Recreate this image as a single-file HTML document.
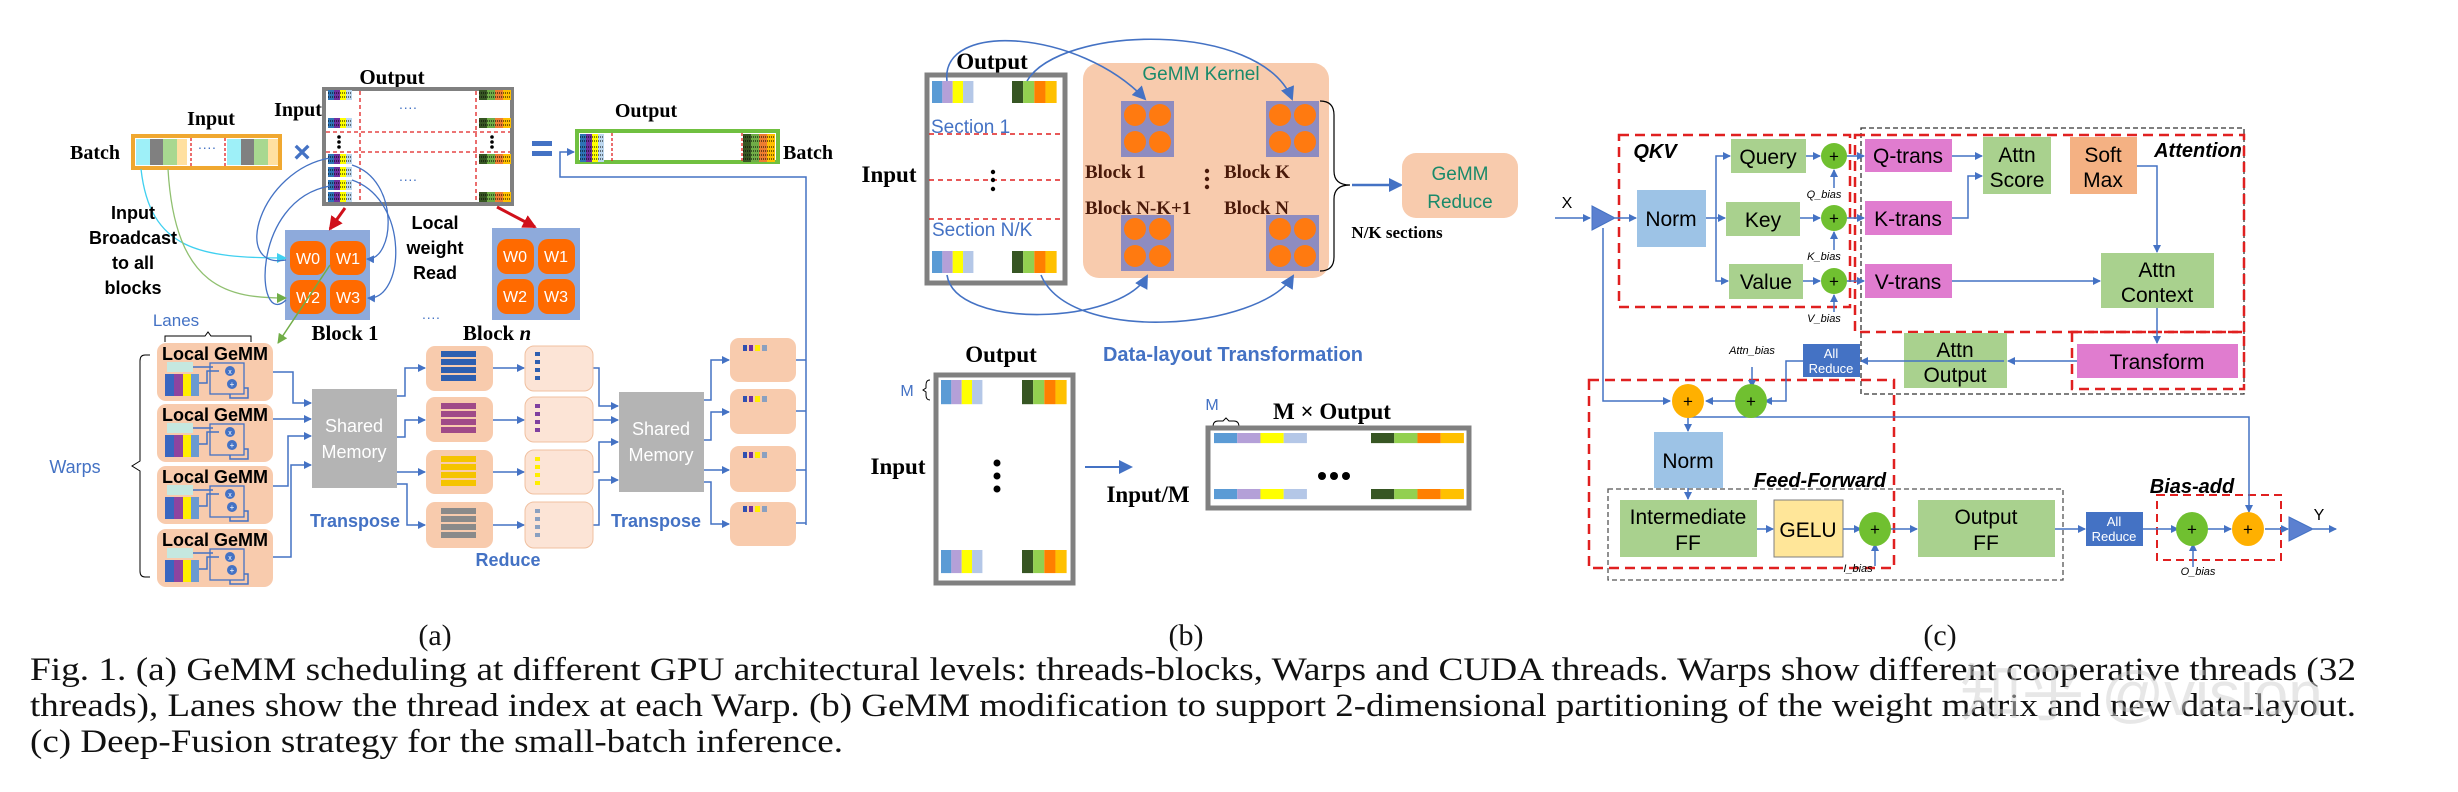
<!DOCTYPE html>
<html><head><meta charset="utf-8"><style>html,body{margin:0;padding:0;background:#fff}svg{display:block}</style></head><body>
<svg xmlns="http://www.w3.org/2000/svg" width="2458" height="792" viewBox="0 0 2458 792">
<defs>
<marker id="ab" markerWidth="8" markerHeight="8" refX="7" refY="4" orient="auto" markerUnits="userSpaceOnUse"><path d="M0,0 L8,4 L0,8 z" fill="#4472c4"/></marker>
<marker id="abl" markerWidth="14" markerHeight="14" refX="12" refY="7" orient="auto" markerUnits="userSpaceOnUse"><path d="M0,0 L14,7 L0,14 z" fill="#4472c4"/></marker>
<marker id="ar" markerWidth="14" markerHeight="14" refX="12" refY="7" orient="auto" markerUnits="userSpaceOnUse"><path d="M0,0 L14,7 L0,14 z" fill="#d0101a"/></marker>
<marker id="ag" markerWidth="10" markerHeight="10" refX="9" refY="5" orient="auto" markerUnits="userSpaceOnUse"><path d="M0,0 L10,5 L0,10 z" fill="#70ad47"/></marker>
<marker id="ac" markerWidth="10" markerHeight="10" refX="9" refY="5" orient="auto" markerUnits="userSpaceOnUse"><path d="M0,0 L10,5 L0,10 z" fill="#40d0f0"/></marker>
<g id="cl"><rect width="6" height="10" fill="#2e75b6"/><rect x="6" width="6" height="10" fill="#7030a0"/><rect x="12" width="6" height="10" fill="#ffff00"/><rect x="18" width="6" height="10" fill="#bdd7ee"/><path d="M0,3h24M0,7h24" stroke="#000" stroke-dasharray="1,1" stroke-width="1"/></g>
<g id="cr"><rect width="8" height="10" fill="#375623"/><rect x="8" width="8" height="10" fill="#70ad47"/><rect x="16" width="8" height="10" fill="#ed7d31"/><rect x="24" width="8" height="10" fill="#ffc000"/><path d="M0,3h32M0,7h32" stroke="#000" stroke-dasharray="1,1" stroke-width="1"/></g>
<g id="bl"><rect width="23" height="22" fill="#5b9bd5"/><rect x="23" width="23" height="22" fill="#b4a0d8"/><rect x="46" width="23" height="22" fill="#ffff00"/><rect x="69" width="23" height="22" fill="#b4c7e7"/></g>
<g id="br"><rect width="23" height="22" fill="#375623"/><rect x="23" width="23" height="22" fill="#92d050"/><rect x="46" width="23" height="22" fill="#ff7f00"/><rect x="69" width="23" height="22" fill="#ffc000"/></g>
<g id="wb"><rect width="53" height="56" fill="#8e8cc0"/><circle cx="14" cy="14" r="11" fill="#ff7a10"/><circle cx="39" cy="14" r="11" fill="#ff7a10"/><circle cx="14" cy="41" r="11" fill="#ff7a10"/><circle cx="39" cy="41" r="11" fill="#ff7a10"/></g>
<g id="lg">
<rect x="0" y="0" width="116" height="58" rx="9" fill="#f8cbad"/>
<text x="58" y="17" font-family="Liberation Sans" font-weight="bold" font-size="18" text-anchor="middle">Local GeMM</text>
<rect x="10" y="19" width="26" height="10" fill="#c5e8e0"/>
<rect x="8" y="31" width="9" height="22" fill="#3a66c0"/><rect x="17" y="31" width="9" height="22" fill="#8e44a0"/><rect x="26" y="31" width="8" height="22" fill="#ffee00"/><rect x="34" y="31" width="8" height="22" fill="#6a9ad0"/>
<rect x="53" y="20" width="34" height="31" fill="none" stroke="#4472c4" stroke-width="1.3"/>
<path d="M36,24h20M42,40h8v-12h12M73,25v6M87,45h4v10h-18v-4" fill="none" stroke="#4472c4" stroke-width="1.5"/>
<circle cx="73" cy="28" r="5" fill="#4472c4"/><circle cx="75" cy="41" r="5" fill="#4472c4"/>
<text x="73" y="31" font-size="7" fill="#fff" text-anchor="middle" font-family="Liberation Sans">x</text><text x="75" y="44" font-size="8" fill="#fff" text-anchor="middle" font-family="Liberation Sans">+</text>
</g>
</defs>

<!-- ============ PANEL A ============ -->
<g font-family="Liberation Serif" font-weight="bold">
<text x="392" y="84" font-size="21" text-anchor="middle">Output</text>
<text x="298" y="116" font-size="20" text-anchor="middle">Input</text>
<text x="211" y="125" font-size="20" text-anchor="middle">Input</text>
<text x="95" y="159" font-size="20" text-anchor="middle">Batch</text>
<text x="646" y="117" font-size="20" text-anchor="middle">Output</text>
<text x="783" y="159" font-size="20">Batch</text>
<text x="345" y="340" font-size="21" text-anchor="middle">Block 1</text>
<text x="497" y="340" font-size="21" text-anchor="middle">Block <tspan font-style="italic">n</tspan></text>
</g>
<rect x="133" y="136" width="147" height="32" fill="#fff" stroke="#f0a830" stroke-width="4"/>
<rect x="136" y="139" width="14" height="26" fill="#9ef0f8"/><rect x="150" y="139" width="13" height="26" fill="#808080"/><rect x="163" y="139" width="14" height="26" fill="#a8d890"/><rect x="177" y="139" width="10" height="26" fill="#ffe0a0"/>
<rect x="227" y="139" width="14" height="26" fill="#9ef0f8"/><rect x="241" y="139" width="13" height="26" fill="#808080"/><rect x="254" y="139" width="14" height="26" fill="#a8d890"/><rect x="268" y="139" width="10" height="26" fill="#ffe0a0"/>
<path d="M191,138v28M225,138v28" stroke="#e02020" stroke-width="1.3" stroke-dasharray="3,2"/>
<text x="207" y="152" font-size="14" fill="#4472c4" text-anchor="middle" font-family="Liberation Sans">····</text>
<text x="302" y="162" font-size="30" fill="#4472c4" text-anchor="middle" font-family="Liberation Sans" font-weight="bold">×</text>
<rect x="532" y="141" width="20" height="5" fill="#4472c4"/><rect x="532" y="151" width="20" height="5" fill="#4472c4"/>
<rect x="324" y="89" width="188" height="115" fill="#fff" stroke="#808080" stroke-width="4"/>
<path d="M360,91v112M476,91v112M326,132h184M326,152h184" stroke="#e02020" stroke-width="1.3" stroke-dasharray="4,3"/>
<use href="#cl" x="328" y="90"/><use href="#cl" x="328" y="118"/><use href="#cl" x="328" y="154"/><use href="#cl" x="328" y="167"/><use href="#cl" x="328" y="180"/><use href="#cl" x="328" y="192"/>
<use href="#cr" x="479" y="90"/><use href="#cr" x="479" y="118"/><use href="#cr" x="479" y="154"/><use href="#cr" x="479" y="192"/>
<text x="408" y="112" font-size="14" fill="#4472c4" text-anchor="middle" font-family="Liberation Sans">····</text>
<text x="408" y="184" font-size="14" fill="#4472c4" text-anchor="middle" font-family="Liberation Sans">····</text>
<g fill="#000"><circle cx="339" cy="137" r="1.8"/><circle cx="339" cy="142" r="1.8"/><circle cx="339" cy="147" r="1.8"/><circle cx="492" cy="137" r="1.8"/><circle cx="492" cy="142" r="1.8"/><circle cx="492" cy="147" r="1.8"/></g>
<rect x="577" y="131" width="201" height="31" fill="#fff" stroke="#70c040" stroke-width="4"/>
<use href="#cl" x="580" y="134"/><use href="#cl" x="580" y="144"/><use href="#cl" x="580" y="152"/>
<use href="#cr" x="743" y="134"/><use href="#cr" x="743" y="144"/><use href="#cr" x="743" y="152"/>
<path d="M612,133v28M742,133v28" stroke="#e02020" stroke-width="1.3" stroke-dasharray="3,2"/>
<path d="M806,525V177H560V152H574" fill="none" stroke="#4472c4" stroke-width="1.5" marker-end="url(#ab)"/>
<rect x="285" y="230" width="85" height="90" fill="#8eaadb"/>
<rect x="492" y="228" width="88" height="92" fill="#8eaadb"/>
<g fill="#ff6a00">
<rect x="290" y="241" width="36" height="34" rx="10"/><rect x="330" y="241" width="36" height="34" rx="10"/><rect x="290" y="280" width="36" height="34" rx="10"/><rect x="330" y="280" width="36" height="34" rx="10"/>
<rect x="497" y="239" width="37" height="35" rx="10"/><rect x="538" y="239" width="37" height="35" rx="10"/><rect x="497" y="279" width="37" height="35" rx="10"/><rect x="538" y="279" width="37" height="35" rx="10"/>
</g>
<g fill="#fff" font-family="Liberation Sans" font-size="16" text-anchor="middle">
<text x="308" y="264">W0</text><text x="348" y="264">W1</text><text x="308" y="303">W2</text><text x="348" y="303">W3</text>
<text x="515" y="262">W0</text><text x="556" y="262">W1</text><text x="515" y="302">W2</text><text x="556" y="302">W3</text>
</g>
<path d="M345,208L330,229" stroke="#d0101a" stroke-width="3" marker-end="url(#ar)"/>
<path d="M497,207L535,227" stroke="#d0101a" stroke-width="3" marker-end="url(#ar)"/>
<g fill="none" stroke-width="1.3">
<path d="M141,169C150,250 200,258 286,258" stroke="#40d0f0" marker-end="url(#ac)"/>
<path d="M168,169C175,290 230,298 286,298" stroke="#90c070" marker-end="url(#ag)"/>
<path d="M330,158C260,170 230,270 286,260" stroke="#4472c4"/>
<path d="M330,186C250,200 255,330 286,300" stroke="#4472c4"/>
<path d="M352,165C400,180 395,260 367,259" stroke="#4472c4" marker-end="url(#ab)"/>
<path d="M352,180C410,200 405,300 368,298" stroke="#4472c4" marker-end="url(#ab)"/>
<path d="M330,265L278,343" stroke="#70ad47" stroke-width="1.5" marker-end="url(#ag)"/>
</g>
<g font-family="Liberation Sans" font-weight="bold" font-size="18" text-anchor="middle">
<text x="435" y="229">Local</text><text x="435" y="254">weight</text><text x="435" y="279">Read</text>
<text x="133" y="219">Input</text><text x="133" y="244">Broadcast</text><text x="133" y="269">to all</text><text x="133" y="294">blocks</text>
</g>
<text x="431" y="322" font-size="14" fill="#4472c4" text-anchor="middle" font-family="Liberation Sans">····</text>
<text x="176" y="326" font-size="17" fill="#4472c4" text-anchor="middle" font-family="Liberation Sans">Lanes</text>
<path d="M165,342v-6h40l3,-4l3,4h40v6" fill="none" stroke="#000" stroke-width="1"/>
<text x="75" y="473" font-size="18" fill="#4472c4" text-anchor="middle" font-family="Liberation Sans">Warps</text>
<path d="M150,355h-5q-5,0 -5,6v100l-8,5l8,5v100q0,6 5,6h5" fill="none" stroke="#000" stroke-width="1"/>
<use href="#lg" x="157" y="343"/><use href="#lg" x="157" y="404"/><use href="#lg" x="157" y="466"/><use href="#lg" x="157" y="529"/>
<rect x="312" y="389" width="85" height="99" fill="#b4b4b4"/>
<text x="354" y="432" font-size="18" fill="#fff" text-anchor="middle" font-family="Liberation Sans">Shared</text>
<text x="354" y="458" font-size="18" fill="#fff" text-anchor="middle" font-family="Liberation Sans">Memory</text>
<rect x="619" y="392" width="85" height="100" fill="#b4b4b4"/>
<text x="661" y="435" font-size="18" fill="#fff" text-anchor="middle" font-family="Liberation Sans">Shared</text>
<text x="661" y="461" font-size="18" fill="#fff" text-anchor="middle" font-family="Liberation Sans">Memory</text>
<g fill="none" stroke="#4472c4" stroke-width="1.5" marker-end="url(#ab)">
<path d="M273,372h20v31h18"/><path d="M273,419h38"/><path d="M273,486h15v-50h23"/><path d="M273,557h18v-92h20"/>
<path d="M397,396h8v-28h20"/><path d="M397,437h8v-17h20"/><path d="M397,472h28"/><path d="M397,484h10v41h18"/>
<path d="M493,368h31"/><path d="M493,420h31"/><path d="M493,472h31"/><path d="M493,525h31"/>
<path d="M593,368h6v38h19"/><path d="M593,420h25"/><path d="M593,472h6v-30h19"/><path d="M593,525h6v-45h19"/>
<path d="M704,400h7v-40h18"/><path d="M704,440h7v-28h18"/><path d="M704,470h25"/><path d="M704,482h7v42h18"/>
</g>
<path d="M796,360h10M796,411h10M796,470h10M796,523h10" stroke="#4472c4" stroke-width="1.5"/>
<g>
<rect x="426" y="346" width="67" height="45" rx="9" fill="#f8cbad"/><rect x="426" y="397" width="67" height="45" rx="9" fill="#f8cbad"/><rect x="426" y="450" width="67" height="44" rx="9" fill="#f8cbad"/><rect x="426" y="502" width="67" height="46" rx="9" fill="#f8cbad"/>
<g fill="#2e5fb0"><rect x="441" y="351" width="35" height="6"/><rect x="441" y="359" width="35" height="6"/><rect x="441" y="367" width="35" height="6"/><rect x="441" y="375" width="35" height="6"/></g>
<g fill="#a04a88"><rect x="441" y="403" width="35" height="6"/><rect x="441" y="411" width="35" height="6"/><rect x="441" y="419" width="35" height="6"/><rect x="441" y="427" width="35" height="6"/></g>
<g fill="#f5c400"><rect x="441" y="456" width="35" height="6"/><rect x="441" y="464" width="35" height="6"/><rect x="441" y="472" width="35" height="6"/><rect x="441" y="480" width="35" height="6"/></g>
<g fill="#8a8a8a"><rect x="441" y="508" width="35" height="6"/><rect x="441" y="516" width="35" height="6"/><rect x="441" y="524" width="35" height="6"/><rect x="441" y="532" width="35" height="6"/></g>
<rect x="525" y="346" width="68" height="45" rx="9" fill="#fce4d6" stroke="#f0c0a0"/><rect x="525" y="397" width="68" height="45" rx="9" fill="#fce4d6" stroke="#f0c0a0"/><rect x="525" y="450" width="68" height="44" rx="9" fill="#fce4d6" stroke="#f0c0a0"/><rect x="525" y="502" width="68" height="46" rx="9" fill="#fce4d6" stroke="#f0c0a0"/>
<g fill="#2e5fb0"><rect x="535" y="352" width="5" height="4"/><rect x="535" y="360" width="5" height="4"/><rect x="535" y="368" width="5" height="4"/><rect x="535" y="376" width="5" height="4"/></g>
<g fill="#8040a0"><rect x="535" y="404" width="5" height="4"/><rect x="535" y="412" width="5" height="4"/><rect x="535" y="420" width="5" height="4"/><rect x="535" y="428" width="5" height="4"/></g>
<g fill="#ffee00"><rect x="535" y="457" width="5" height="4"/><rect x="535" y="465" width="5" height="4"/><rect x="535" y="473" width="5" height="4"/><rect x="535" y="481" width="5" height="4"/></g>
<g fill="#8aa0c0"><rect x="535" y="509" width="5" height="4"/><rect x="535" y="517" width="5" height="4"/><rect x="535" y="525" width="5" height="4"/><rect x="535" y="533" width="5" height="4"/></g>
<rect x="730" y="338" width="66" height="44" rx="9" fill="#f8cbad"/><rect x="730" y="389" width="66" height="45" rx="9" fill="#f8cbad"/><rect x="730" y="446" width="66" height="46" rx="9" fill="#f8cbad"/><rect x="730" y="502" width="66" height="44" rx="9" fill="#f8cbad"/>
<g id="sq"><rect x="743" y="345" width="4" height="6" fill="#3050b0"/><rect x="749" y="345" width="4" height="6" fill="#7030a0"/><rect x="755" y="345" width="5" height="6" fill="#ffee00"/><rect x="762" y="345" width="5" height="6" fill="#8aa0c0"/></g>
<use href="#sq" y="51"/><use href="#sq" y="107"/><use href="#sq" y="161"/>
</g>
<g font-family="Liberation Sans" font-weight="bold" font-size="18" fill="#4472c4" text-anchor="middle">
<text x="355" y="527">Transpose</text><text x="508" y="566">Reduce</text><text x="656" y="527">Transpose</text>
</g>

<!-- ============ PANEL B ============ -->
<text x="992" y="69" font-size="23" font-family="Liberation Serif" font-weight="bold" text-anchor="middle">Output</text>
<rect x="927" y="75" width="138" height="208" fill="#fff" stroke="#808080" stroke-width="5"/>
<use href="#bl" transform="translate(932,81) scale(0.45,1)"/>
<use href="#br" transform="translate(1012,81) scale(0.485,1)"/>
<use href="#bl" transform="translate(932,251) scale(0.45,1)"/>
<use href="#br" transform="translate(1012,251) scale(0.485,1)"/>
<path d="M929,134h134M929,180h134M929,219h134" stroke="#e02020" stroke-width="1.5" stroke-dasharray="5,4"/>
<text x="931" y="133" font-size="19" fill="#4472c4" font-family="Liberation Sans">Section 1</text>
<text x="932" y="236" font-size="19" fill="#4472c4" font-family="Liberation Sans">Section N/K</text>
<g fill="#000"><circle cx="993" cy="172" r="2.2"/><circle cx="993" cy="180" r="2.2"/><circle cx="993" cy="189" r="2.2"/></g>
<text x="889" y="182" font-size="23" font-family="Liberation Serif" font-weight="bold" text-anchor="middle">Input</text>
<rect x="1083" y="63" width="246" height="215" rx="16" fill="#f8cbad"/>
<text x="1201" y="80" font-size="19" fill="#1a8a6a" text-anchor="middle" font-family="Liberation Sans">GeMM Kernel</text>
<use href="#wb" x="1121" y="101"/><use href="#wb" x="1266" y="101"/><use href="#wb" x="1121" y="215"/><use href="#wb" x="1266" y="215"/>
<g font-family="Liberation Serif" font-weight="bold" font-size="19" fill="#4a1a0a">
<text x="1085" y="178">Block 1</text><text x="1224" y="178">Block K</text><text x="1085" y="214">Block N-K+1</text><text x="1224" y="214">Block N</text>
</g>
<g fill="#4a1a0a"><circle cx="1207" cy="171" r="2.2"/><circle cx="1207" cy="179" r="2.2"/><circle cx="1207" cy="187" r="2.2"/></g>
<path d="M1320,101q14,0 14,14v56q0,14 16,14q-16,0 -16,14v58q0,14 -14,14" fill="none" stroke="#000" stroke-width="1.2"/>
<path d="M1352,185H1401" stroke="#4472c4" stroke-width="2.5" marker-end="url(#abl)"/>
<rect x="1402" y="153" width="116" height="65" rx="14" fill="#f8cbad"/>
<text x="1460" y="180" font-size="19" fill="#1a8a6a" text-anchor="middle" font-family="Liberation Sans">GeMM</text>
<text x="1460" y="208" font-size="19" fill="#1a8a6a" text-anchor="middle" font-family="Liberation Sans">Reduce</text>
<text x="1397" y="238" font-size="17" font-family="Liberation Serif" font-weight="bold" text-anchor="middle">N/K sections</text>
<g fill="none" stroke="#4472c4" stroke-width="1.6">
<path d="M947,81C940,20 1080,30 1145,99" marker-end="url(#abl)"/>
<path d="M1027,81C1060,25 1260,20 1292,99" marker-end="url(#abl)"/>
<path d="M947,275C955,330 1120,325 1147,276" marker-end="url(#abl)"/>
<path d="M1041,275C1070,345 1260,330 1293,276" marker-end="url(#abl)"/>
</g>
<text x="1001" y="362" font-size="23" font-family="Liberation Serif" font-weight="bold" text-anchor="middle">Output</text>
<text x="1233" y="361" font-size="20" fill="#4472c4" font-family="Liberation Sans" font-weight="bold" text-anchor="middle">Data-layout Transformation</text>
<rect x="936" y="375" width="137" height="208" fill="#fff" stroke="#808080" stroke-width="5"/>
<use href="#bl" transform="translate(941,380) scale(0.45,1.1)"/>
<use href="#br" transform="translate(1022,380) scale(0.485,1.1)"/>
<use href="#bl" transform="translate(941,550) scale(0.45,1.05)"/>
<use href="#br" transform="translate(1022,550) scale(0.485,1.05)"/>
<text x="907" y="396" font-size="16" fill="#4472c4" text-anchor="middle" font-family="Liberation Sans">M</text>
<path d="M930,380q-4,0 -4,5v3l-3,2l3,2v3q0,5 4,5" fill="none" stroke="#000"/>
<g fill="#000"><circle cx="997" cy="463" r="3.5"/><circle cx="997" cy="476" r="3.5"/><circle cx="997" cy="489" r="3.5"/></g>
<text x="898" y="474" font-size="23" font-family="Liberation Serif" font-weight="bold" text-anchor="middle">Input</text>
<path d="M1085,467H1131" stroke="#4472c4" stroke-width="2" marker-end="url(#abl)"/>
<text x="1148" y="502" font-size="23" font-family="Liberation Serif" font-weight="bold" text-anchor="middle">Input/M</text>
<text x="1332" y="419" font-size="23" font-family="Liberation Serif" font-weight="bold" text-anchor="middle">M × Output</text>
<text x="1212" y="410" font-size="16" fill="#4472c4" text-anchor="middle" font-family="Liberation Sans">M</text>
<path d="M1213,427q0,-6 5,-6h5l3,-3l3,3h5q5,0 5,6" fill="none" stroke="#000"/>
<rect x="1208" y="428" width="261" height="80" fill="#fff" stroke="#808080" stroke-width="5"/>
<use href="#bl" transform="translate(1214,433) scale(1.01,0.46)"/>
<use href="#br" transform="translate(1371,433) scale(1.01,0.46)"/>
<use href="#bl" transform="translate(1214,489) scale(1.01,0.46)"/>
<use href="#br" transform="translate(1371,489) scale(1.01,0.46)"/>
<g fill="#000"><circle cx="1322" cy="476" r="4"/><circle cx="1334" cy="476" r="4"/><circle cx="1346" cy="476" r="4"/></g>

<!-- ============ PANEL C ============ -->
<g font-family="Liberation Sans" font-size="21" text-anchor="middle">
<rect x="1861" y="128" width="383" height="266" fill="none" stroke="#333" stroke-width="1.3" stroke-dasharray="5,3"/>
<rect x="1619" y="135" width="231" height="172" fill="none" stroke="#e02020" stroke-width="2.5" stroke-dasharray="10,6"/>
<rect x="1855" y="135" width="389" height="197" fill="none" stroke="#e02020" stroke-width="2.5" stroke-dasharray="10,6"/>
<rect x="2072" y="332" width="172" height="57" fill="none" stroke="#e02020" stroke-width="2.5" stroke-dasharray="10,6"/>
<rect x="1589" y="380" width="305" height="188" fill="none" stroke="#e02020" stroke-width="2.5" stroke-dasharray="10,6"/>
<rect x="1608" y="489" width="455" height="91" fill="none" stroke="#555" stroke-width="1.3" stroke-dasharray="5,3"/>
<rect x="2157" y="495" width="124" height="65" fill="none" stroke="#e02020" stroke-width="2" stroke-dasharray="8,5"/>

<rect x="1637" y="190" width="69" height="57" fill="#9dc3e6"/><text x="1671" y="226">Norm</text>
<rect x="1731" y="139" width="75" height="34" fill="#a9d18e"/><text x="1768" y="164">Query</text>
<rect x="1726" y="202" width="74" height="34" fill="#a9d18e"/><text x="1763" y="227">Key</text>
<rect x="1729" y="264" width="74" height="35" fill="#a9d18e"/><text x="1766" y="289">Value</text>
<rect x="1865" y="139" width="87" height="33" fill="#e07ccf"/><text x="1908" y="163">Q-trans</text>
<rect x="1865" y="201" width="87" height="34" fill="#e07ccf"/><text x="1908" y="226">K-trans</text>
<rect x="1865" y="264" width="87" height="34" fill="#e07ccf"/><text x="1908" y="289">V-trans</text>
<rect x="1983" y="137" width="68" height="57" fill="#a9d18e"/><text x="2017" y="162">Attn</text><text x="2017" y="187">Score</text>
<rect x="2070" y="137" width="67" height="57" fill="#f4b183"/><text x="2103" y="162">Soft</text><text x="2103" y="187">Max</text>
<rect x="2101" y="253" width="113" height="55" fill="#a9d18e"/><text x="2157" y="277">Attn</text><text x="2157" y="302">Context</text>
<rect x="2077" y="344" width="161" height="34" fill="#e07ccf"/><text x="2157" y="369">Transform</text>
<rect x="1904" y="333" width="103" height="55" fill="#a9d18e"/><text x="1955" y="357">Attn</text><text x="1955" y="382">Output</text>
<rect x="1654" y="432" width="69" height="56" fill="#9dc3e6"/><text x="1688" y="468">Norm</text>
<rect x="1620" y="500" width="137" height="57" fill="#a9d18e"/><text x="1688" y="524">Intermediate</text><text x="1688" y="550">FF</text>
<rect x="1774" y="500" width="69" height="57" fill="#ffe699" stroke="#7f7f7f"/><text x="1808" y="537">GELU</text>
<rect x="1918" y="500" width="137" height="57" fill="#a9d18e"/><text x="1986" y="524">Output</text><text x="1986" y="550">FF</text>
<rect x="1803" y="344" width="57" height="33" fill="#4472c4"/><text x="1831" y="358" font-size="13" fill="#fff">All</text><text x="1831" y="373" font-size="13" fill="#fff">Reduce</text>
<rect x="2086" y="512" width="57" height="34" fill="#4472c4"/><text x="2114" y="526" font-size="13" fill="#fff">All</text><text x="2114" y="541" font-size="13" fill="#fff">Reduce</text>
</g>
<g fill="none" stroke="#4472c4" stroke-width="1.5" marker-end="url(#ab)">
<path d="M1555,218H1590"/><path d="M1615,218H1636"/>
<path d="M1706,218H1725"/><path d="M1716,218V156H1730"/><path d="M1716,218V281H1728"/>
<path d="M1806,156H1820"/><path d="M1800,218H1820"/><path d="M1803,281H1820"/>
<path d="M1847,156H1864"/><path d="M1847,218H1864"/><path d="M1847,281H1864"/>
<path d="M1834,188V170"/><path d="M1834,250V232"/><path d="M1834,312V295"/>
<path d="M1952,156H1982"/><path d="M1952,218H1968V176H1982"/>
<path d="M2137,166H2157V252"/><path d="M1952,281H2100"/>
<path d="M2157,308V343"/><path d="M2077,361H2008"/><path d="M2004,361H1861"/>
<path d="M1803,361H1786V401H1765"/><path d="M1737,401H1706"/><path d="M1752,367V387"/>
<path d="M1603,228V401H1670"/><path d="M1688,418V431"/>
<path d="M1688,417H2249V512"/><path d="M1688,488V499"/>
<path d="M1757,529H1773"/><path d="M1843,529H1861"/><path d="M1889,529H1917"/><path d="M2055,529H2085"/>
<path d="M2143,529H2178"/><path d="M2206,529H2231"/><path d="M2265,529H2288"/><path d="M2313,529H2336"/>
<path d="M1875,566V544"/><path d="M2193,567V544"/>
</g>
<path d="M1592,206L1615,218L1592,230z" fill="#5b80d0" stroke="#4472c4"/>
<path d="M2289,517L2313,529L2289,541z" fill="#5b80d0" stroke="#4472c4"/>
<g font-family="Liberation Sans" text-anchor="middle">
<circle cx="1834" cy="156" r="13" fill="#70c030"/><text x="1834" y="162" font-size="17">+</text>
<circle cx="1834" cy="218" r="13" fill="#70c030"/><text x="1834" y="224" font-size="17">+</text>
<circle cx="1834" cy="281" r="13" fill="#70c030"/><text x="1834" y="287" font-size="17">+</text>
<ellipse cx="1688" cy="401" rx="16" ry="17" fill="#ffb000"/><text x="1688" y="407" font-size="17">+</text>
<ellipse cx="1751" cy="401" rx="16" ry="17" fill="#70c030"/><text x="1751" y="407" font-size="17">+</text>
<ellipse cx="1875" cy="529" rx="16" ry="17" fill="#70c030"/><text x="1875" y="535" font-size="17">+</text>
<ellipse cx="2192" cy="529" rx="16" ry="17" fill="#70c030"/><text x="2192" y="535" font-size="17">+</text>
<ellipse cx="2248" cy="529" rx="16" ry="17" fill="#ffb000"/><text x="2248" y="535" font-size="17">+</text>
<g font-style="italic" font-size="11">
<text x="1824" y="198">Q_bias</text><text x="1824" y="260">K_bias</text><text x="1824" y="322">V_bias</text>
<text x="1752" y="354">Attn_bias</text><text x="1858" y="572">I_bias</text><text x="2198" y="575">O_bias</text>
</g>
<text x="1567" y="208" font-size="16">X</text><text x="2319" y="520" font-size="16">Y</text>
<g font-weight="bold" font-style="italic" font-size="20">
<text x="1655" y="158">QKV</text><text x="2198" y="157">Attention</text><text x="1820" y="487">Feed-Forward</text><text x="2192" y="493">Bias-add</text>
</g>
</g>

<!-- ============ CAPTION ============ -->
<g font-family="Liberation Serif" font-size="33" fill="#111">
<text x="435" y="645" font-size="30" text-anchor="middle">(a)</text>
<text x="1186" y="645" font-size="30" text-anchor="middle">(b)</text>
<text x="1940" y="645" font-size="30" text-anchor="middle">(c)</text>
<text x="30" y="680" textLength="2326" lengthAdjust="spacingAndGlyphs">Fig. 1.   (a) GeMM scheduling at different GPU architectural levels: threads-blocks, Warps and CUDA threads. Warps show different cooperative threads (32</text>
<text x="30" y="716" textLength="2326" lengthAdjust="spacingAndGlyphs">threads), Lanes show the thread index at each Warp. (b) GeMM modification to support 2-dimensional partitioning of the weight matrix and new data-layout.</text>
<text x="30" y="752" textLength="813" lengthAdjust="spacingAndGlyphs">(c) Deep-Fusion strategy for the small-batch inference.</text>
</g>
<text x="1960" y="715" font-family="Liberation Sans, Noto Sans CJK SC, sans-serif" font-size="62" fill="#d0d0d0" fill-opacity="0.5">知乎 @vision</text>
</svg>
</body></html>
